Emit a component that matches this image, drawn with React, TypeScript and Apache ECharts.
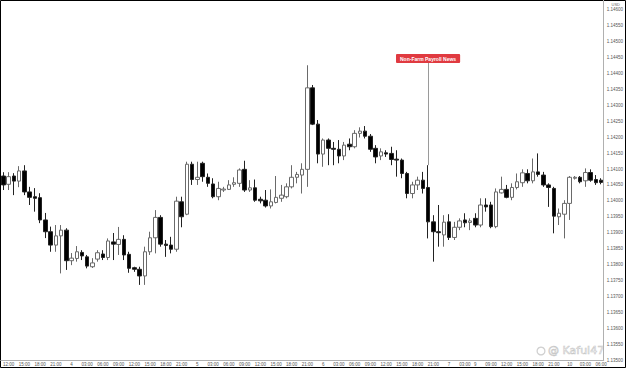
import React, { useEffect, useRef } from "react";
import * as echarts from "echarts";

// Trading sessions (day of month, first hour, last hour) for hourly candles
const sessionDays = [3, 4, 5, 6, 7, 9, 10];
const sessionStartHours = [11, 0, 0, 0, 0, 6, 0];
const sessionEndHours = [23, 23, 23, 23, 4, 23, 6];

const opens = [
  1.14078, 1.14052, 1.14078, 1.14062, 1.14094, 1.14028, 1.14013, 1.1401, 1.1394, 1.13903,
  1.13861, 1.1389, 1.13908, 1.13812, 1.13819, 1.13838, 1.13824, 1.13793, 1.13817, 1.13833,
  1.13822, 1.13871, 1.13863, 1.13879, 1.13832, 1.1379, 1.13785, 1.13764, 1.1384, 1.13884,
  1.13948, 1.13864, 1.13861, 1.13848, 1.13997, 1.13958, 1.14115, 1.14067, 1.14118, 1.14074,
  1.14053, 1.14013, 1.14034, 1.14036, 1.14052, 1.14055, 1.14099, 1.14034, 1.14041, 1.14005,
  1.14002, 1.13984, 1.13995, 1.14008, 1.14013, 1.14044, 1.14074, 1.14081, 1.14099, 1.14355,
  1.14241, 1.14147, 1.14191, 1.14165, 1.14162, 1.14141, 1.14178, 1.1417, 1.14212, 1.14219,
  1.14203, 1.14165, 1.14141, 1.14151, 1.14149, 1.14131, 1.14128, 1.14086, 1.14023, 1.1405,
  1.14065, 1.14042, 1.13934, 1.13903, 1.13893, 1.13934, 1.13885, 1.13917, 1.1394, 1.13932,
  1.13945, 1.13924, 1.13987, 1.13987, 1.13919, 1.14025, 1.14036, 1.14011, 1.14042, 1.14057,
  1.14086, 1.14063, 1.14091, 1.14081, 1.1405, 1.14039, 1.1395, 1.13958, 1.13992, 1.14071,
  1.14074, 1.14063, 1.14089, 1.14067, 1.14065,
];
const closes = [
  1.1405, 1.14076, 1.14062, 1.14094, 1.14028, 1.14011, 1.14008, 1.1394, 1.13903, 1.13861,
  1.1389, 1.13908, 1.13812, 1.1382, 1.1384, 1.13827, 1.13795, 1.13805, 1.13837, 1.13822,
  1.13874, 1.13864, 1.13879, 1.1383, 1.13788, 1.13785, 1.13764, 1.1384, 1.13884, 1.13948,
  1.13864, 1.1386, 1.13848, 1.13999, 1.1395, 1.14115, 1.14067, 1.14074, 1.14076, 1.14055,
  1.14013, 1.14039, 1.14037, 1.1405, 1.14057, 1.14097, 1.14034, 1.14041, 1.14002, 1.14,
  1.13984, 1.13997, 1.14011, 1.14018, 1.14044, 1.14074, 1.14083, 1.14099, 1.14355, 1.14241,
  1.14147, 1.14191, 1.14165, 1.14162, 1.14141, 1.14175, 1.1417, 1.14212, 1.14219, 1.14203,
  1.14162, 1.14138, 1.14154, 1.14147, 1.1413, 1.14128, 1.14086, 1.14023, 1.1405, 1.14065,
  1.14039, 1.13934, 1.13903, 1.139, 1.13933, 1.13885, 1.13917, 1.13937, 1.13931, 1.13937,
  1.13924, 1.13987, 1.13981, 1.13919, 1.14028, 1.14036, 1.14011, 1.14042, 1.1406, 1.14088,
  1.14063, 1.14091, 1.14083, 1.1405, 1.14042, 1.13952, 1.13961, 1.13992, 1.14074, 1.14074,
  1.1406, 1.14089, 1.14065, 1.14057, 1.14058,
];
const lows = [
  1.14034, 1.14034, 1.14018, 1.14043, 1.14018, 1.13987, 1.13966, 1.1393, 1.13883, 1.1384,
  1.1384, 1.13772, 1.13783, 1.13798, 1.13809, 1.13814, 1.13788, 1.13789, 1.13809, 1.13814,
  1.13814, 1.13814, 1.1383, 1.13814, 1.13774, 1.13777, 1.13736, 1.13736, 1.1383, 1.13835,
  1.13856, 1.13824, 1.13835, 1.1384, 1.13917, 1.13955, 1.1405, 1.1405, 1.1406, 1.14044,
  1.14008, 1.14002, 1.14028, 1.14034, 1.14044, 1.14044, 1.14028, 1.14028, 1.13997, 1.13992,
  1.13979, 1.13976, 1.13992, 1.13997, 1.14008, 1.14039, 1.14055, 1.14023, 1.14044, 1.14238,
  1.14118, 1.14107, 1.14112, 1.14112, 1.14118, 1.14128, 1.14159, 1.14165, 1.14199, 1.14196,
  1.14154, 1.14118, 1.14128, 1.14138, 1.14112, 1.14076, 1.14071, 1.14008, 1.14008, 1.14034,
  1.14023, 1.13882, 1.13809, 1.13856, 1.13856, 1.13877, 1.13877, 1.13908, 1.13917, 1.13908,
  1.13917, 1.13917, 1.13966, 1.13914, 1.13914, 1.14023, 1.14008, 1.14002, 1.14036, 1.14044,
  1.14055, 1.14055, 1.14076, 1.14044, 1.13981, 1.13898, 1.13924, 1.13882, 1.1394, 1.14067,
  1.14055, 1.14044, 1.1406, 1.1405, 1.14052,
];
const highs = [
  1.1409, 1.1409, 1.14087, 1.14109, 1.14112, 1.14044, 1.1404, 1.14024, 1.13962, 1.13919,
  1.13924, 1.13924, 1.13914, 1.13836, 1.13858, 1.13845, 1.1383, 1.1382, 1.13845, 1.13845,
  1.13882, 1.13899, 1.13918, 1.13892, 1.1384, 1.13793, 1.13793, 1.13856, 1.13903, 1.13971,
  1.13955, 1.13877, 1.13887, 1.14013, 1.14013, 1.14123, 1.14123, 1.14123, 1.14123, 1.14086,
  1.14071, 1.1406, 1.14044, 1.14065, 1.14074, 1.14102, 1.14126, 1.14065, 1.14067, 1.14013,
  1.14034, 1.14036, 1.14078, 1.1405, 1.14055, 1.14112, 1.14091, 1.14118, 1.14426, 1.14364,
  1.14254, 1.14196, 1.14196, 1.14185, 1.14191, 1.14185, 1.14196, 1.14222, 1.14231, 1.14235,
  1.1421, 1.14175, 1.14165, 1.14159, 1.1417, 1.14159, 1.14133, 1.14091, 1.1406, 1.14076,
  1.14091, 1.14112, 1.13955, 1.13987, 1.13955, 1.13958, 1.13934, 1.13945, 1.13961, 1.13945,
  1.13961, 1.14008, 1.14008, 1.13997, 1.14039, 1.14076, 1.1405, 1.14055, 1.14086, 1.14099,
  1.14099, 1.14133, 1.14149, 1.14091, 1.14055, 1.14044, 1.13976, 1.14002, 1.14078, 1.14078,
  1.14078, 1.14102, 1.14099, 1.14081, 1.14071,
];

const nfpIndex = 81;
const nfpLabelPrice = 1.14433;
const nfpText = "Non-Farm Payroll News";
const yMin = 1.135;
const yMax = 1.14631;
const yStep = 0.0005;

const pad = (n: number) => (n < 10 ? "0" + n : "" + n);

export default function App() {
  const ref = useRef<HTMLDivElement>(null);
  useEffect(() => {
    if (!ref.current) return;
    const chart = echarts.init(ref.current, undefined, { renderer: "svg" });

    const categories: string[] = [];
    const catDays: number[] = [];
    const catHours: number[] = [];
    sessionDays.forEach((d, s) => {
      for (let h = sessionStartHours[s]; h <= sessionEndHours[s]; h++) {
        categories.push(d + " " + pad(h) + ":00");
        catDays.push(d);
        catHours.push(h);
      }
    });
    const isDayStart = (i: number) => i > 0 && catDays[i] !== catDays[i - 1];
    const showLabel = (i: number) =>
      isDayStart(i) || (catHours[i] % 3 === 0 && !isDayStart(i - 1) && !isDayStart(i - 2));

    const data = opens.map((o, i) => [o, closes[i], lows[i], highs[i]]);

    chart.setOption({
      animation: false,
      backgroundColor: "#ffffff",
      grid: { left: 0, right: 19, top: 0, bottom: 9 },
      xAxis: {
        type: "category",
        data: categories,
        boundaryGap: true,
        axisLine: { lineStyle: { color: "#b0b0b0", width: 1 } },
        axisTick: { show: false },
        splitLine: { show: false },
        axisLabel: {
          interval: (i: number) => showLabel(i),
          formatter: (_v: string, i: number) =>
            isDayStart(i) ? String(catDays[i]) : pad(catHours[i]) + ":00",
          fontSize: 4.5,
          color: "#555",
          margin: 2,
          fontFamily: "Liberation Sans",
        },
      },
      yAxis: {
        type: "value",
        position: "right",
        min: yMin,
        max: yMax,
        interval: yStep,
        axisLine: { show: true, lineStyle: { color: "#b0b0b0", width: 1 } },
        axisTick: { show: false },
        splitLine: { show: false },
        axisLabel: {
          fontSize: 4.5,
          color: "#555",
          margin: 3,
          showMaxLabel: false,
          fontFamily: "Liberation Sans",
          formatter: (v: number) => v.toFixed(5),
        },
      },
      series: [
        {
          type: "candlestick",
          data,
          barWidth: 4,
          itemStyle: {
            color: "#ffffff",
            color0: "#000000",
            borderColor: "#6a6a6a",
            borderColor0: "#222222",
            borderWidth: 1,
          },
          markLine: {
            silent: true,
            symbol: ["none", "none"],
            lineStyle: { color: "#9a9a9a", width: 1, type: "solid" },
            label: {
              show: true,
              position: "end",
              formatter: nfpText,
              backgroundColor: "#e03a40",
              color: "#ffffff",
              fontSize: 5,
              fontWeight: "bold",
              fontFamily: "Liberation Sans",
              padding: [2, 4, 2, 4],
              distance: 0,
              borderRadius: 1,
            },
            data: [
              [
                { coord: [nfpIndex, highs[nfpIndex]] },
                { coord: [nfpIndex, nfpLabelPrice] },
              ],
            ],
          },
        },
      ],
      graphic: [
        {
          type: "text",
          right: 6,
          top: 2,
          style: { text: "USD", fontSize: 4, fill: "#666", fontFamily: "Liberation Sans" },
        },
        {
          type: "ring",
          shape: { cx: 541, cy: 351, r: 4.5, r0: 3.3 },
          style: { fill: "#d0d0d0" },
          silent: true,
        },
        {
          type: "text",
          x: 548,
          y: 345,
          style: {
            text: "@ Kaful47",
            fontSize: 11,
            fill: "rgba(0,0,0,0)",
            stroke: "#c8c8c8",
            lineWidth: 0.6,
            fontFamily: "DejaVu Sans",
          },
          silent: true,
        },
        {
          type: "rect",
          shape: { x: 0.5, y: 0.5, width: 625, height: 367 },
          style: { fill: "none", stroke: "#000", lineWidth: 1 },
          silent: true,
        },
      ],
    });
    return () => chart.dispose();
  }, []);
  return (
    <div
      ref={ref}
      style={{ position: "fixed", left: 0, top: 0, width: 626, height: 369, background: "#fff" }}
    />
  );
}
